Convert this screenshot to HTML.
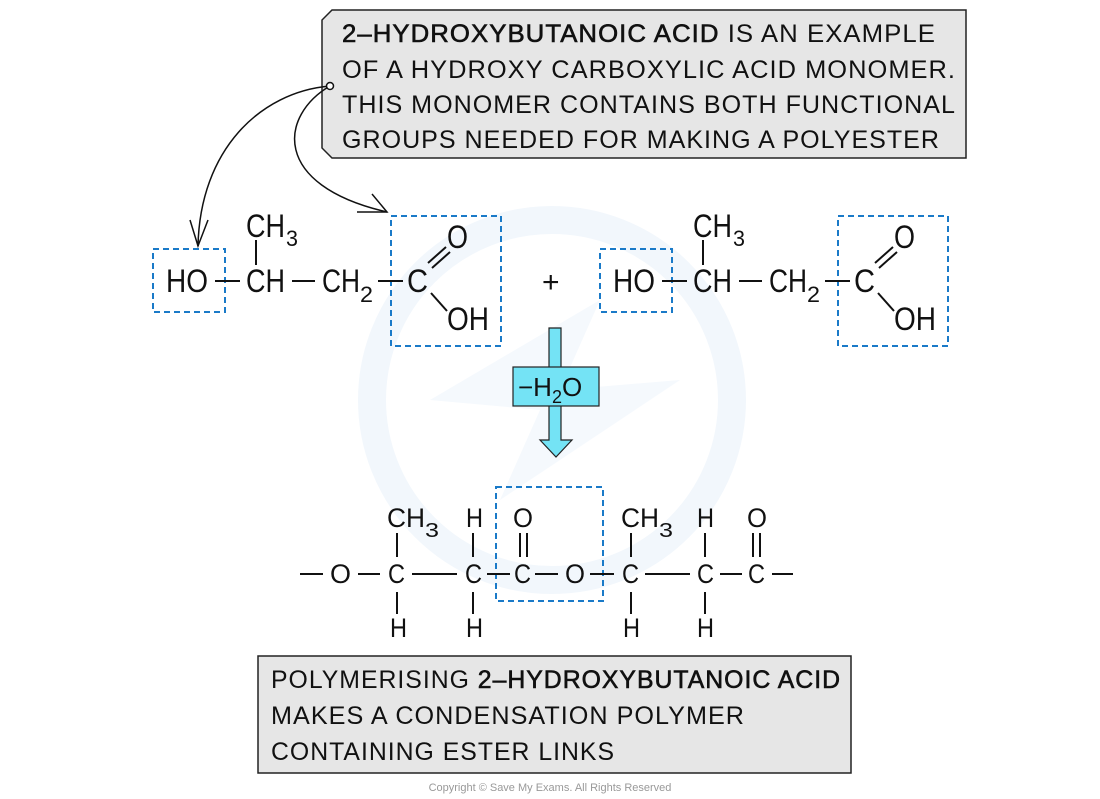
<!DOCTYPE html>
<html><head><meta charset="utf-8"><style>
html,body{margin:0;padding:0;background:#fff;}
svg{display:block;}
text{font-family:"Liberation Sans",sans-serif;fill:#111;}
</style></head><body>
<svg width="1100" height="799" viewBox="0 0 1100 799" xmlns="http://www.w3.org/2000/svg">
<!-- watermark -->
<circle cx="552" cy="400" r="180" fill="none" stroke="#f2f7fc" stroke-width="28"/>
<path d="M430 400 L600 300 L560 390 L680 380 L500 500 L540 410 Z" fill="#f5f9fd"/>

<!-- top box -->
<path d="M332 10 L966 10 L966 158 L332 158 L322 148 L322 20 Z" fill="#e6e6e6" stroke="#222" stroke-width="1.5"/>
<g font-size="25" letter-spacing="1">
<text x="342" y="42" textLength="594" lengthAdjust="spacingAndGlyphs"><tspan stroke="#111" stroke-width="0.6">2–HYDROXYBUTANOIC  ACID</tspan>  IS  AN  EXAMPLE</text>
<text x="342" y="78" textLength="614" lengthAdjust="spacingAndGlyphs">OF  A  HYDROXY  CARBOXYLIC  ACID  MONOMER.</text>
<text x="342" y="113" textLength="614" lengthAdjust="spacingAndGlyphs">THIS  MONOMER  CONTAINS  BOTH  FUNCTIONAL</text>
<text x="342" y="148" textLength="598" lengthAdjust="spacingAndGlyphs">GROUPS  NEEDED  FOR  MAKING  A  POLYESTER</text>
</g>

<!-- curved arrows -->
<g fill="none" stroke="#111" stroke-width="1.5">
<path d="M330 86 C260 92 200 150 198 246"/>
<path d="M190 220 L198 246 L208 220"/>
<path d="M330 86 C280 115 270 185 387 212"/>
<path d="M372 194 L387 212 L357 212"/>
</g>
<circle cx="330" cy="86" r="3.5" fill="#fff" stroke="#111" stroke-width="1.5"/>

<defs>
<g id="mono">
<rect x="153" y="249" width="72" height="63" fill="none" stroke="#1a7ac8" stroke-width="2" stroke-dasharray="6,4"/>
<rect x="391" y="216" width="110" height="130" fill="none" stroke="#1a7ac8" stroke-width="2" stroke-dasharray="6,4"/>
<g font-size="32">
<text x="166" y="292" textLength="42" lengthAdjust="spacingAndGlyphs">HO</text>
<text x="246" y="292" textLength="39" lengthAdjust="spacingAndGlyphs">CH</text>
<text x="246" y="237" textLength="39" lengthAdjust="spacingAndGlyphs">CH</text><text x="286" y="246" font-size="22" textLength="12" lengthAdjust="spacingAndGlyphs">3</text>
<text x="322" y="292" textLength="38" lengthAdjust="spacingAndGlyphs">CH</text><text x="360" y="302" font-size="22" textLength="13" lengthAdjust="spacingAndGlyphs">2</text>
<text x="407" y="292" textLength="21" lengthAdjust="spacingAndGlyphs">C</text>
<text x="447" y="248" textLength="21" lengthAdjust="spacingAndGlyphs">O</text>
<text x="447" y="330" textLength="42" lengthAdjust="spacingAndGlyphs">OH</text>
</g>
<g stroke="#111" stroke-width="2">
<line x1="215" y1="281" x2="240" y2="281"/>
<line x1="256" y1="240" x2="256" y2="265"/>
<line x1="292" y1="281" x2="315" y2="281"/>
<line x1="378" y1="281" x2="403" y2="281"/>
<line x1="428" y1="263" x2="446" y2="247"/>
<line x1="432" y1="268" x2="450" y2="252"/>
<line x1="431" y1="293" x2="447" y2="311"/>
</g>
</g>
</defs>
<use href="#mono"/>
<use href="#mono" transform="translate(447,0)"/>
<text x="542" y="292" font-size="30">+</text>

<!-- arrow -->
<g fill="#74e3f5" stroke="#222" stroke-width="1.2">
<path d="M549 328 L561 328 L561 440 L572 440 L556 457 L540 440 L549 440 Z"/>
<rect x="513" y="367" width="86" height="39"/>
</g>
<text x="518" y="396" font-size="26">−H<tspan font-size="18" dy="7">2</tspan><tspan dy="-7">O</tspan></text>

<!-- polymer -->
<rect x="496" y="487" width="107" height="114" fill="none" stroke="#1a7ac8" stroke-width="2" stroke-dasharray="6,4"/>
<g font-size="27">
<text x="330" y="583" textLength="21" lengthAdjust="spacingAndGlyphs">O</text>
<text x="388" y="583" textLength="17" lengthAdjust="spacingAndGlyphs">C</text>
<text x="387" y="527" textLength="38" lengthAdjust="spacingAndGlyphs">CH</text><text x="425" y="537" font-size="20" textLength="14" lengthAdjust="spacingAndGlyphs">3</text>
<text x="390" y="637" textLength="17" lengthAdjust="spacingAndGlyphs">H</text>
<text x="465" y="583" textLength="17" lengthAdjust="spacingAndGlyphs">C</text>
<text x="466" y="527" textLength="17" lengthAdjust="spacingAndGlyphs">H</text>
<text x="466" y="637" textLength="17" lengthAdjust="spacingAndGlyphs">H</text>
<text x="514" y="583" textLength="17" lengthAdjust="spacingAndGlyphs">C</text>
<text x="513" y="527" textLength="20" lengthAdjust="spacingAndGlyphs">O</text>
<text x="565" y="583" textLength="20" lengthAdjust="spacingAndGlyphs">O</text>
<text x="622" y="583" textLength="17" lengthAdjust="spacingAndGlyphs">C</text>
<text x="621" y="527" textLength="38" lengthAdjust="spacingAndGlyphs">CH</text><text x="659" y="537" font-size="20" textLength="14" lengthAdjust="spacingAndGlyphs">3</text>
<text x="623" y="637" textLength="17" lengthAdjust="spacingAndGlyphs">H</text>
<text x="697" y="583" textLength="17" lengthAdjust="spacingAndGlyphs">C</text>
<text x="697" y="527" textLength="17" lengthAdjust="spacingAndGlyphs">H</text>
<text x="697" y="637" textLength="17" lengthAdjust="spacingAndGlyphs">H</text>
<text x="748" y="583" textLength="17" lengthAdjust="spacingAndGlyphs">C</text>
<text x="747" y="527" textLength="20" lengthAdjust="spacingAndGlyphs">O</text>
</g>
<g stroke="#111" stroke-width="2">
<line x1="300" y1="574" x2="323" y2="574"/>
<line x1="358" y1="574" x2="380" y2="574"/>
<line x1="397" y1="533" x2="397" y2="557"/>
<line x1="397" y1="592" x2="397" y2="614"/>
<line x1="412" y1="574" x2="457" y2="574"/>
<line x1="473" y1="533" x2="473" y2="557"/>
<line x1="473" y1="592" x2="473" y2="614"/>
<line x1="487" y1="574" x2="510" y2="574"/>
<line x1="520" y1="533" x2="520" y2="557"/>
<line x1="527" y1="533" x2="527" y2="557"/>
<line x1="535" y1="574" x2="558" y2="574"/>
<line x1="590" y1="574" x2="614" y2="574"/>
<line x1="631" y1="533" x2="631" y2="557"/>
<line x1="631" y1="592" x2="631" y2="614"/>
<line x1="645" y1="574" x2="690" y2="574"/>
<line x1="705" y1="533" x2="705" y2="557"/>
<line x1="705" y1="592" x2="705" y2="614"/>
<line x1="720" y1="574" x2="742" y2="574"/>
<line x1="753" y1="533" x2="753" y2="557"/>
<line x1="760" y1="533" x2="760" y2="557"/>
<line x1="772" y1="574" x2="793" y2="574"/>
</g>

<!-- bottom box -->
<rect x="258" y="656" width="593" height="117" fill="#e6e6e6" stroke="#222" stroke-width="1.5"/>
<g font-size="25" letter-spacing="1">
<text x="271" y="688" textLength="570" lengthAdjust="spacingAndGlyphs">POLYMERISING  <tspan stroke="#111" stroke-width="0.6">2–HYDROXYBUTANOIC  ACID</tspan></text>
<text x="271" y="724" textLength="474" lengthAdjust="spacingAndGlyphs">MAKES  A  CONDENSATION  POLYMER</text>
<text x="271" y="760" textLength="344" lengthAdjust="spacingAndGlyphs">CONTAINING  ESTER  LINKS</text>
</g>
<text x="550" y="791" font-size="11" text-anchor="middle" style="fill:#999">Copyright © Save My Exams. All Rights Reserved</text>
</svg>
</body></html>
